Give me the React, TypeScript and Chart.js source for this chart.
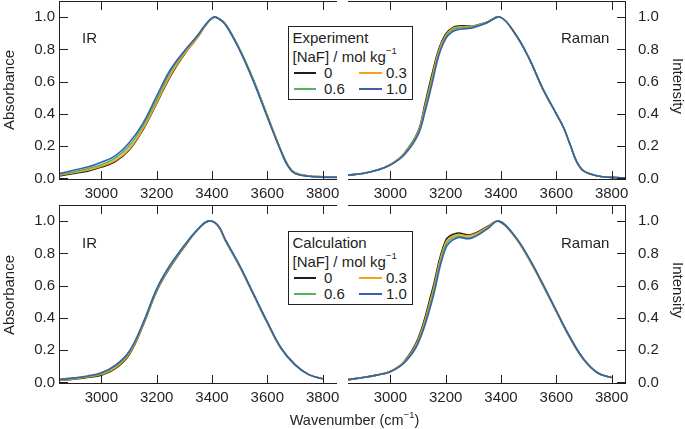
import React, { useEffect, useRef } from "react";
import { Chart, registerables } from "chart.js";

Chart.register(...registerables);

// ---------- data ----------
const SERIES_LABELS = ["0", "0.3", "0.6", "1.0"];
const SERIES_COLORS = ["#1c1c1c", "#f5a11c", "#55b45b", "#3a60ab"];
const X_TICKS = [3000, 3200, 3400, 3600, 3800];
const Y_TICKS = [0, 0.2, 0.4, 0.6, 0.8, 1.0];
const X_MIN = 2847;
const X_MAX = 3852;
const Y_MIN = -0.01;
const Y_MAX = 1.1;

// IR, experiment
const WN_IR_EXP = [2847, 2900, 2950, 3000, 3050, 3100, 3150, 3200, 3250, 3300, 3350, 3375, 3405, 3425, 3450, 3500, 3550, 3600, 3650, 3675, 3700, 3750, 3800, 3852];
const IR_EXP_0 = [0.015, 0.03, 0.045, 0.07, 0.105, 0.175, 0.3, 0.465, 0.635, 0.77, 0.88, 0.945, 0.997, 0.99, 0.955, 0.8, 0.61, 0.39, 0.17, 0.08, 0.035, 0.015, 0.01, 0.008];
const IR_EXP_03 = [0.02, 0.035, 0.05, 0.075, 0.11, 0.18, 0.305, 0.47, 0.64, 0.772, 0.88, 0.945, 0.998, 0.99, 0.955, 0.8, 0.61, 0.39, 0.17, 0.08, 0.035, 0.015, 0.01, 0.008];
const IR_EXP_06 = [0.025, 0.04, 0.06, 0.085, 0.125, 0.2, 0.325, 0.49, 0.66, 0.785, 0.89, 0.95, 1.0, 0.99, 0.952, 0.8, 0.61, 0.385, 0.168, 0.078, 0.032, 0.014, 0.009, 0.007];
const IR_EXP_10 = [0.03, 0.05, 0.07, 0.1, 0.14, 0.22, 0.34, 0.51, 0.675, 0.79, 0.89, 0.95, 1.0, 0.99, 0.95, 0.795, 0.6, 0.38, 0.165, 0.075, 0.03, 0.013, 0.008, 0.006];

// Raman, experiment
const WN_RA_EXP = [2847, 2900, 2950, 3000, 3050, 3100, 3125, 3150, 3175, 3200, 3225, 3250, 3275, 3300, 3350, 3397, 3450, 3500, 3550, 3600, 3625, 3650, 3675, 3700, 3750, 3800, 3852];
const RA_EXP_0 = [0.02, 0.03, 0.05, 0.085, 0.155, 0.29, 0.46, 0.64, 0.8, 0.895, 0.935, 0.945, 0.945, 0.945, 0.97, 1.0, 0.9, 0.75, 0.56, 0.4, 0.32, 0.21, 0.1, 0.045, 0.015, 0.006, 0.003];
const RA_EXP_03 = [0.02, 0.03, 0.05, 0.085, 0.152, 0.285, 0.445, 0.62, 0.79, 0.885, 0.93, 0.94, 0.94, 0.943, 0.968, 1.0, 0.9, 0.75, 0.56, 0.4, 0.32, 0.21, 0.1, 0.045, 0.015, 0.006, 0.003];
const RA_EXP_06 = [0.02, 0.03, 0.05, 0.084, 0.15, 0.28, 0.43, 0.6, 0.775, 0.875, 0.92, 0.935, 0.935, 0.94, 0.967, 1.0, 0.9, 0.75, 0.56, 0.4, 0.32, 0.21, 0.1, 0.045, 0.015, 0.006, 0.003];
const RA_EXP_10 = [0.02, 0.03, 0.05, 0.083, 0.145, 0.27, 0.41, 0.58, 0.76, 0.865, 0.91, 0.925, 0.928, 0.935, 0.965, 1.0, 0.9, 0.75, 0.56, 0.4, 0.32, 0.21, 0.1, 0.045, 0.015, 0.006, 0.003];

// IR, calculation
const WN_IR_CALC = [2847, 2900, 2950, 3000, 3050, 3100, 3150, 3200, 3240, 3300, 3350, 3387, 3420, 3450, 3500, 3550, 3600, 3650, 3700, 3750, 3800];
const IR_CALC_0 = [0.012, 0.02, 0.03, 0.045, 0.085, 0.17, 0.35, 0.565, 0.69, 0.84, 0.95, 1.0, 0.975, 0.875, 0.72, 0.545, 0.37, 0.21, 0.11, 0.048, 0.022];
const IR_CALC_03 = [0.014, 0.022, 0.033, 0.05, 0.09, 0.175, 0.355, 0.57, 0.695, 0.843, 0.95, 1.0, 0.975, 0.876, 0.72, 0.545, 0.37, 0.21, 0.11, 0.048, 0.022];
const IR_CALC_06 = [0.016, 0.025, 0.036, 0.055, 0.1, 0.185, 0.36, 0.575, 0.7, 0.845, 0.95, 1.0, 0.976, 0.878, 0.722, 0.547, 0.372, 0.212, 0.11, 0.048, 0.022];
const IR_CALC_10 = [0.018, 0.028, 0.04, 0.06, 0.105, 0.19, 0.365, 0.58, 0.705, 0.85, 0.952, 1.0, 0.977, 0.88, 0.725, 0.55, 0.375, 0.213, 0.11, 0.048, 0.022];

// Raman, calculation
const WN_RA_CALC = [2847, 2900, 2950, 3000, 3050, 3100, 3150, 3200, 3240, 3290, 3350, 3392, 3450, 3500, 3550, 3600, 3650, 3700, 3750, 3800];
const RA_CALC_0 = [0.017, 0.03, 0.045, 0.068, 0.13, 0.27, 0.56, 0.88, 0.925, 0.915, 0.965, 1.0, 0.905, 0.77, 0.61, 0.44, 0.275, 0.14, 0.058, 0.03];
const RA_CALC_03 = [0.017, 0.03, 0.045, 0.068, 0.128, 0.26, 0.54, 0.865, 0.915, 0.91, 0.96, 1.0, 0.9, 0.765, 0.605, 0.44, 0.275, 0.14, 0.058, 0.03];
const RA_CALC_06 = [0.017, 0.03, 0.045, 0.067, 0.125, 0.25, 0.52, 0.85, 0.905, 0.898, 0.955, 1.0, 0.905, 0.77, 0.61, 0.442, 0.277, 0.14, 0.058, 0.03];
const RA_CALC_10 = [0.017, 0.03, 0.045, 0.066, 0.12, 0.24, 0.5, 0.83, 0.895, 0.893, 0.95, 1.0, 0.908, 0.775, 0.615, 0.445, 0.28, 0.142, 0.058, 0.03];

// ---------- style ----------
const FONT = "'Liberation Sans', Arial, Helvetica, sans-serif";
const INK = "#231f20";
const TICK_LEN = 9;

const framePlugin = {
  id: "frame",
  afterDraw(chart: any, _args: any, opts: any) {
    const { ctx, chartArea: a, scales } = chart;
    const side = opts.side;
    ctx.save();
    ctx.strokeStyle = INK;
    ctx.lineWidth = 1;
    ctx.beginPath();
    const top = Math.round(a.top) + 0.5;
    const bottom = Math.round(a.bottom) - 0.5;
    const left = Math.round(a.left) + 0.5;
    const right = Math.round(a.right) - 0.5;
    ctx.moveTo(a.left, top);
    ctx.lineTo(a.right, top);
    ctx.moveTo(a.left, bottom);
    ctx.lineTo(a.right, bottom);
    if (side === "left") {
      ctx.moveTo(left, a.top);
      ctx.lineTo(left, a.bottom);
    } else {
      ctx.moveTo(right, a.top);
      ctx.lineTo(right, a.bottom);
    }
    for (const v of X_TICKS) {
      const px = Math.round(scales.x.getPixelForValue(v)) + 0.5;
      ctx.moveTo(px, a.bottom);
      ctx.lineTo(px, a.bottom - TICK_LEN);
      ctx.moveTo(px, a.top);
      ctx.lineTo(px, a.top + TICK_LEN);
    }
    for (const v of Y_TICKS) {
      const py = Math.round(scales.y.getPixelForValue(v)) + 0.5;
      if (side === "left") {
        ctx.moveTo(a.left, py);
        ctx.lineTo(a.left + TICK_LEN, py);
      } else {
        ctx.moveTo(a.right, py);
        ctx.lineTo(a.right - TICK_LEN, py);
      }
    }
    ctx.stroke();
    ctx.restore();
  },
};

type PanelProps = {
  left: number;
  top: number;
  width: number;
  height: number;
  side: "left" | "right";
  padL: number;
  padR: number;
  xAxisH: number;
  wn: number[];
  series: number[][];
};

function Panel({ left, top, width, height, side, padL, padR, xAxisH, wn, series }: PanelProps) {
  const ref = useRef<HTMLCanvasElement>(null);
  useEffect(() => {
    const tickFont = { family: FONT, size: 15 };
    // Chart.js draws dataset 0 on top, so list the last series first
    const idx = series.map((_, i) => i).reverse();
    const chart = new Chart(ref.current as HTMLCanvasElement, {
      type: "line",
      data: {
        datasets: idx.map((i) => ({
          label: SERIES_LABELS[i],
          data: wn.map((x, j) => ({ x, y: series[i][j] })),
          borderColor: SERIES_COLORS[i],
          backgroundColor: SERIES_COLORS[i],
          borderWidth: 1.6,
          pointRadius: 0,
          tension: 0.4,
          fill: false,
        })),
      },
      options: {
        responsive: false,
        maintainAspectRatio: false,
        animation: false,
        devicePixelRatio: 1,
        events: [],
        layout: { padding: { left: padL, right: padR, top: 1, bottom: 0 } },
        plugins: {
          legend: { display: false },
          tooltip: { enabled: false },
          // @ts-ignore
          frame: { side },
        },
        scales: {
          x: {
            type: "linear",
            position: "bottom",
            min: X_MIN,
            max: X_MAX,
            grid: { display: false, drawTicks: false },
            border: { display: false },
            ticks: {
              font: tickFont,
              color: INK,
              padding: 5,
              maxRotation: 0,
              autoSkip: false,
              callback: (v: any) => String(v),
            },
            afterBuildTicks: (s: any) => {
              s.ticks = X_TICKS.map((value) => ({ value }));
            },
            afterFit: (s: any) => {
              s.height = xAxisH;
              s.paddingLeft = 0;
              s.paddingRight = 0;
            },
          },
          y: {
            type: "linear",
            position: side,
            min: Y_MIN,
            max: Y_MAX,
            grid: { display: false, drawTicks: false },
            border: { display: false },
            ticks: {
              font: tickFont,
              color: INK,
              padding: side === "left" ? 4 : 12,
              autoSkip: false,
              callback: (v: any) => Number(v).toFixed(1),
            },
            afterBuildTicks: (s: any) => {
              s.ticks = Y_TICKS.map((value) => ({ value }));
            },
            afterFit: (s: any) => {
              s.width = 59;
              s.paddingTop = 0;
              s.paddingBottom = 0;
            },
          },
        },
      } as any,
      plugins: [framePlugin as any],
    });
    return () => chart.destroy();
  }, []);
  return (
    <canvas
      ref={ref}
      width={width}
      height={height}
      style={{ position: "absolute", left, top, width, height, display: "block" }}
    />
  );
}

const textBase: React.CSSProperties = {
  position: "absolute",
  fontFamily: FONT,
  fontSize: 15,
  lineHeight: "15px",
  color: INK,
  whiteSpace: "nowrap",
};

function Label({ x, baseline, children, size = 15 }: { x: number; baseline: number; children: React.ReactNode; size?: number }) {
  return (
    <div style={{ ...textBase, fontSize: size, lineHeight: `${size}px`, left: x, top: baseline - Math.round(size * 0.85) }}>
      {children}
    </div>
  );
}

function Legend({ top, title }: { top: number; title: string }) {
  const line = (x: number, y: number, w: number, color: string) => (
    <div style={{ position: "absolute", left: x, top: y - 1, width: w, height: 1.6, background: color }} />
  );
  return (
    <>
      <div
        style={{
          position: "absolute",
          left: 288,
          top,
          width: 125,
          height: 74,
          boxSizing: "border-box",
          border: `1px solid ${INK}`,
          background: "#fff",
        }}
      />
      <Label x={292.5} baseline={top + 17}>{title}</Label>
      <Label x={292.5} baseline={top + 36}>
        [NaF] / mol kg<span style={{ fontSize: 9.5, position: "relative", top: -8 }}>−1</span>
      </Label>
      {line(294, top + 47, 22, SERIES_COLORS[0])}
      <Label x={324} baseline={top + 52}>{SERIES_LABELS[0]}</Label>
      {line(359, top + 47, 23, SERIES_COLORS[1])}
      <Label x={386} baseline={top + 52}>{SERIES_LABELS[1]}</Label>
      {line(294, top + 63, 22, SERIES_COLORS[2])}
      <Label x={324} baseline={top + 68}>{SERIES_LABELS[2]}</Label>
      {line(359, top + 63, 23, SERIES_COLORS[3])}
      <Label x={386} baseline={top + 68}>{SERIES_LABELS[3]}</Label>
    </>
  );
}

function VText({ cx, cy, rot, children }: { cx: number; cy: number; rot: number; children: React.ReactNode }) {
  return (
    <div
      style={{
        ...textBase,
        left: cx,
        top: cy,
        transform: `translate(-50%, -50%) rotate(${rot}deg)`,
      }}
    >
      {children}
    </div>
  );
}

export default function App() {
  return (
    <div
      style={{
        position: "absolute",
        left: 0,
        top: 0,
        width: 685,
        height: 429,
        background: "#fff",
        overflow: "hidden",
      }}
    >
      <Panel left={0} top={0} width={345} height={205} side="left" padL={0} padR={8} xAxisH={25}
        wn={WN_IR_EXP} series={[IR_EXP_0, IR_EXP_03, IR_EXP_06, IR_EXP_10]} />
      <Panel left={345} top={0} width={340} height={205} side="right" padL={3} padR={0} xAxisH={25}
        wn={WN_RA_EXP} series={[RA_EXP_0, RA_EXP_03, RA_EXP_06, RA_EXP_10]} />
      <Panel left={0} top={204} width={345} height={225} side="left" padL={0} padR={8} xAxisH={45}
        wn={WN_IR_CALC} series={[IR_CALC_0, IR_CALC_03, IR_CALC_06, IR_CALC_10]} />
      <Panel left={345} top={204} width={340} height={225} side="right" padL={3} padR={0} xAxisH={45}
        wn={WN_RA_CALC} series={[RA_CALC_0, RA_CALC_03, RA_CALC_06, RA_CALC_10]} />

      <Label x={82} baseline={43}>IR</Label>
      <Label x={82} baseline={248}>IR</Label>
      <Label x={561} baseline={43}>Raman</Label>
      <Label x={561} baseline={248}>Raman</Label>

      <Legend top={26} title="Experiment" />
      <Legend top={231} title="Calculation" />

      <VText cx={8} cy={90} rot={-90}>Absorbance</VText>
      <VText cx={8} cy={295} rot={-90}>Absorbance</VText>
      <VText cx={678} cy={86} rot={90}>Intensity</VText>
      <VText cx={678} cy={290} rot={90}>Intensity</VText>

      <div style={{ ...textBase, fontSize: 14.5, left: 354.5, top: 413, transform: "translateX(-50%)" }}>
        Wavenumber (cm<span style={{ fontSize: 9.5, position: "relative", top: -7 }}>−1</span>)
      </div>
    </div>
  );
}
